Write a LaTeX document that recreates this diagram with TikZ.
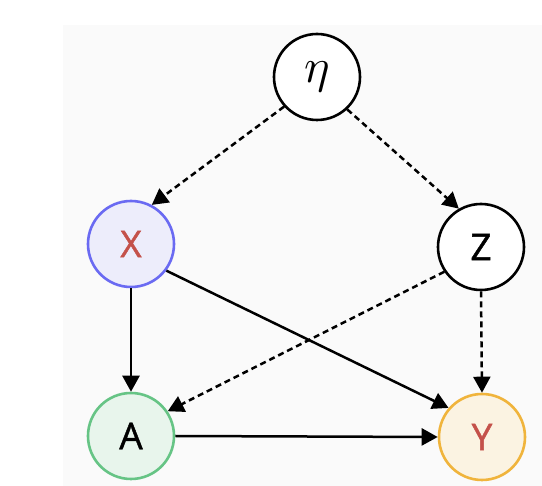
\documentclass[tikz,border=0pt]{standalone}
\usepackage{fontspec}
\newfontfamily\varfont{Open Sans}[FakeBold=1.2]
\usetikzlibrary{arrows.meta, positioning}
\DeclareFontShape{OML}{cmm}{m}{it}{<->cmmi10}{\skewchar\font=127}

\definecolor{bggray}{HTML}{FAFAFA}
\definecolor{labred}{HTML}{C4514A}
\definecolor{xfill}{HTML}{EDEDFB}
\definecolor{xline}{HTML}{6A6AF2}
\definecolor{afill}{HTML}{E8F5EC}
\definecolor{aline}{HTML}{66C485}
\definecolor{yfill}{HTML}{FBF3E2}
\definecolor{yline}{HTML}{F0B43C}

\begin{document}
\begin{tikzpicture}[x=1pt, y=-1pt,
        var/.style={draw, circle, line width=2.6pt, minimum size=86pt, inner sep=0pt, fill=white, font=\fontsize{37}{40}\selectfont\varfont},
        arrow/.style={-{Triangle[length=16pt,width=17pt]}, line width=2.5pt},
        latent/.style={arrow, dash pattern=on 6pt off 4pt}
    ]
        \useasboundingbox (0,0) rectangle (542,486);
        \fill[bggray] (63,25) rectangle (542,486);

        % Nodes
        \node[var, font=\fontsize{48}{52}\selectfont] (eta) at (317,77) {$\eta$};
        \node[var, draw=xline, fill=xfill, text=labred] (X) at (131,244) {X};
        \node[var] (Z) at (481,247) {Z};
        \node[var, draw=aline, fill=afill] (A) at (131,436) {A};
        \node[var, draw=yline, fill=yfill, text=labred] (Y) at (482,437) {Y};

        % Arrows
        \draw[latent] (eta.222) -- (X.62);
        \draw[latent] (eta.313) -- (Z.120);
        \draw[latent] (Z.214) -- (A.34);
        \draw[latent] (Z.270) -- (Y.90);
        \draw[arrow] (X.323) -- (Y.139);
        \draw[arrow] (X.270) -- (A.90);
        \draw[arrow] (A.0) -- (Y.180);
    \end{tikzpicture}
\end{document}
